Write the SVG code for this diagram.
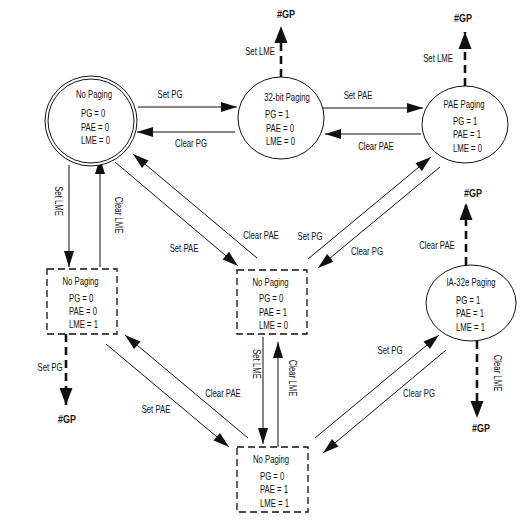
<svg xmlns="http://www.w3.org/2000/svg" width="532" height="529" viewBox="0 0 532 529">
<style>
text{font-family:"Liberation Sans",Arial,sans-serif;font-size:10.2px;fill:#111}
.m{text-anchor:middle}
.gp{font-weight:bold;font-size:11.5px;text-anchor:middle}
.st{fill:#fff;stroke:#111;stroke-width:1}
.box{fill:#fff;stroke:#111;stroke-width:1.3;stroke-dasharray:7 4}
.c{fill:none;stroke:#111;stroke-width:1;marker-end:url(#arr)}
.d{fill:none;stroke:#111;stroke-width:2.6;stroke-dasharray:8 5;marker-end:url(#big)}
</style>
<defs>
<marker id="arr" markerUnits="userSpaceOnUse" markerWidth="17" markerHeight="11" refX="16" refY="5" orient="auto" overflow="visible">
<path d="M0,0 L16,5 L0,10 z" fill="#111"/>
</marker>
<marker id="big" markerUnits="userSpaceOnUse" markerWidth="18" markerHeight="14" refX="17" refY="6.5" orient="auto" overflow="visible">
<path d="M0,0 L17,6.5 L0,13 z" fill="#111"/>
</marker>
</defs>
<rect width="532" height="529" fill="#fff"/>

<g id="connectors">
<path class="c" d="M138,107 L237,107"/>
<path class="c" d="M235,132 L137,132"/>
<path class="c" d="M323,108 L423,108"/>
<path class="c" d="M421,134 L325,134"/>
<path class="c" d="M69,165 L69,267"/>
<path class="c" d="M100,267 L100,158"/>
<path class="c" d="M115,162 L238,266"/>
<path class="c" d="M257,258 L133,154"/>
<path class="c" d="M308,259 L431,157"/>
<path class="c" d="M440,167 L318,268"/>
<path class="c" d="M106,344 L229,447"/>
<path class="c" d="M248,438 L125,335"/>
<path class="c" d="M263,337 L263,444"/>
<path class="c" d="M278,447 L278,342"/>
<path class="c" d="M315,438 L439,335"/>
<path class="c" d="M446,350 L323,453"/>
<path class="d" d="M281,77 L281,26"/>
<path class="d" d="M465,86 L465,32"/>
<path class="d" d="M466,265 L466,203"/>
<path class="d" d="M477,341 L477,418"/>
<path class="d" d="M66,334 L66,405"/>
<text class="m" transform="translate(170,98) scale(.76,1)">Set PG</text>
<text class="m" transform="translate(191,147) scale(.76,1)">Clear PG</text>
<text class="m" transform="translate(358,99) scale(.76,1)">Set PAE</text>
<text class="m" transform="translate(376,150) scale(.76,1)">Clear PAE</text>
<text class="m" transform="translate(260,55) scale(.76,1)">Set LME</text>
<text class="m" transform="translate(438,62) scale(.76,1)">Set LME</text>
<text class="m" transform="translate(437,249) scale(.76,1)">Clear PAE</text>
<text class="m" transform="translate(50,371) scale(.76,1)">Set PG</text>
<text class="m" transform="translate(184,252) scale(.76,1)">Set PAE</text>
<text class="m" transform="translate(261,239) scale(.76,1)">Clear PAE</text>
<text class="m" transform="translate(310,240) scale(.76,1)">Set PG</text>
<text class="m" transform="translate(367,255) scale(.76,1)">Clear PG</text>
<text class="m" transform="translate(156,413) scale(.76,1)">Set PAE</text>
<text class="m" transform="translate(223,397) scale(.76,1)">Clear PAE</text>
<text class="m" transform="translate(390,354) scale(.76,1)">Set PG</text>
<text class="m" transform="translate(419,397) scale(.76,1)">Clear PG</text>
<text class="m" transform="translate(54.5,201) rotate(90) scale(.76,1)">Set LME</text>
<text class="m" transform="translate(115,215) rotate(90) scale(.76,1)">Clear LME</text>
<text class="m" transform="translate(252.5,364) rotate(90) scale(.76,1)">Set LME</text>
<text class="m" transform="translate(288.5,378) rotate(90) scale(.76,1)">Clear LME</text>
<text class="m" transform="translate(493.5,373) rotate(90) scale(.76,1)">Clear LME</text>
<text class="gp" transform="translate(286,18) scale(.78,1)">#GP</text>
<text class="gp" transform="translate(463,22) scale(.78,1)">#GP</text>
<text class="gp" transform="translate(473,197) scale(.78,1)">#GP</text>
<text class="gp" transform="translate(481,432) scale(.78,1)">#GP</text>
<text class="gp" transform="translate(67,423) scale(.78,1)">#GP</text>
</g>

<g id="node-a">
<ellipse class="st" cx="91" cy="121" rx="46" ry="45"/>
<ellipse class="st" cx="91" cy="121" rx="43" ry="42"/>
<text class="m" transform="translate(94,98) scale(.76,1)">No Paging</text>
<text transform="translate(81,117) scale(.76,1)">PG = 0</text>
<text transform="translate(81,131) scale(.76,1)">PAE = 0</text>
<text transform="translate(81,144) scale(.76,1)">LME = 0</text>
</g>

<g id="node-b">
<ellipse class="st" cx="281" cy="118" rx="43" ry="41"/>
<text class="m" transform="translate(287,101) scale(.76,1)">32-bit Paging</text>
<text transform="translate(265,118) scale(.76,1)">PG = 1</text>
<text transform="translate(266,132) scale(.76,1)">PAE = 0</text>
<text transform="translate(266,145) scale(.76,1)">LME = 0</text>
</g>

<g id="node-c">
<ellipse class="st" cx="465" cy="124.5" rx="43" ry="38.5"/>
<text class="m" transform="translate(464,108) scale(.76,1)">PAE Paging</text>
<text transform="translate(453,125) scale(.76,1)">PG = 1</text>
<text transform="translate(453,138) scale(.76,1)">PAE = 1</text>
<text transform="translate(453,152) scale(.76,1)">LME = 0</text>
</g>

<g id="node-d">
<ellipse class="st" cx="471" cy="303" rx="45" ry="38"/>
<text class="m" transform="translate(471,286) scale(.76,1)">IA-32e Paging</text>
<text transform="translate(456,304) scale(.76,1)">PG = 1</text>
<text transform="translate(456,317) scale(.76,1)">PAE = 1</text>
<text transform="translate(456,331) scale(.76,1)">LME = 1</text>
</g>

<g id="node-e">
<rect class="box" x="47" y="269" width="70" height="65"/>
<text class="m" transform="translate(80.5,285) scale(.76,1)">No Paging</text>
<text transform="translate(69,302) scale(.76,1)">PG = 0</text>
<text transform="translate(69,315) scale(.76,1)">PAE = 0</text>
<text transform="translate(69,328) scale(.76,1)">LME = 1</text>
</g>

<g id="node-f">
<rect class="box" x="237" y="270" width="70" height="64"/>
<text class="m" transform="translate(270.5,286) scale(.76,1)">No Paging</text>
<text transform="translate(259,302) scale(.76,1)">PG = 0</text>
<text transform="translate(259,316) scale(.76,1)">PAE = 1</text>
<text transform="translate(259,329) scale(.76,1)">LME = 0</text>
</g>

<g id="node-g">
<rect class="box" x="237" y="447" width="71" height="65"/>
<text class="m" transform="translate(271,463) scale(.76,1)">No Paging</text>
<text transform="translate(260,480) scale(.76,1)">PG = 0</text>
<text transform="translate(260,493) scale(.76,1)">PAE = 1</text>
<text transform="translate(260,507) scale(.76,1)">LME = 1</text>
</g>
</svg>
